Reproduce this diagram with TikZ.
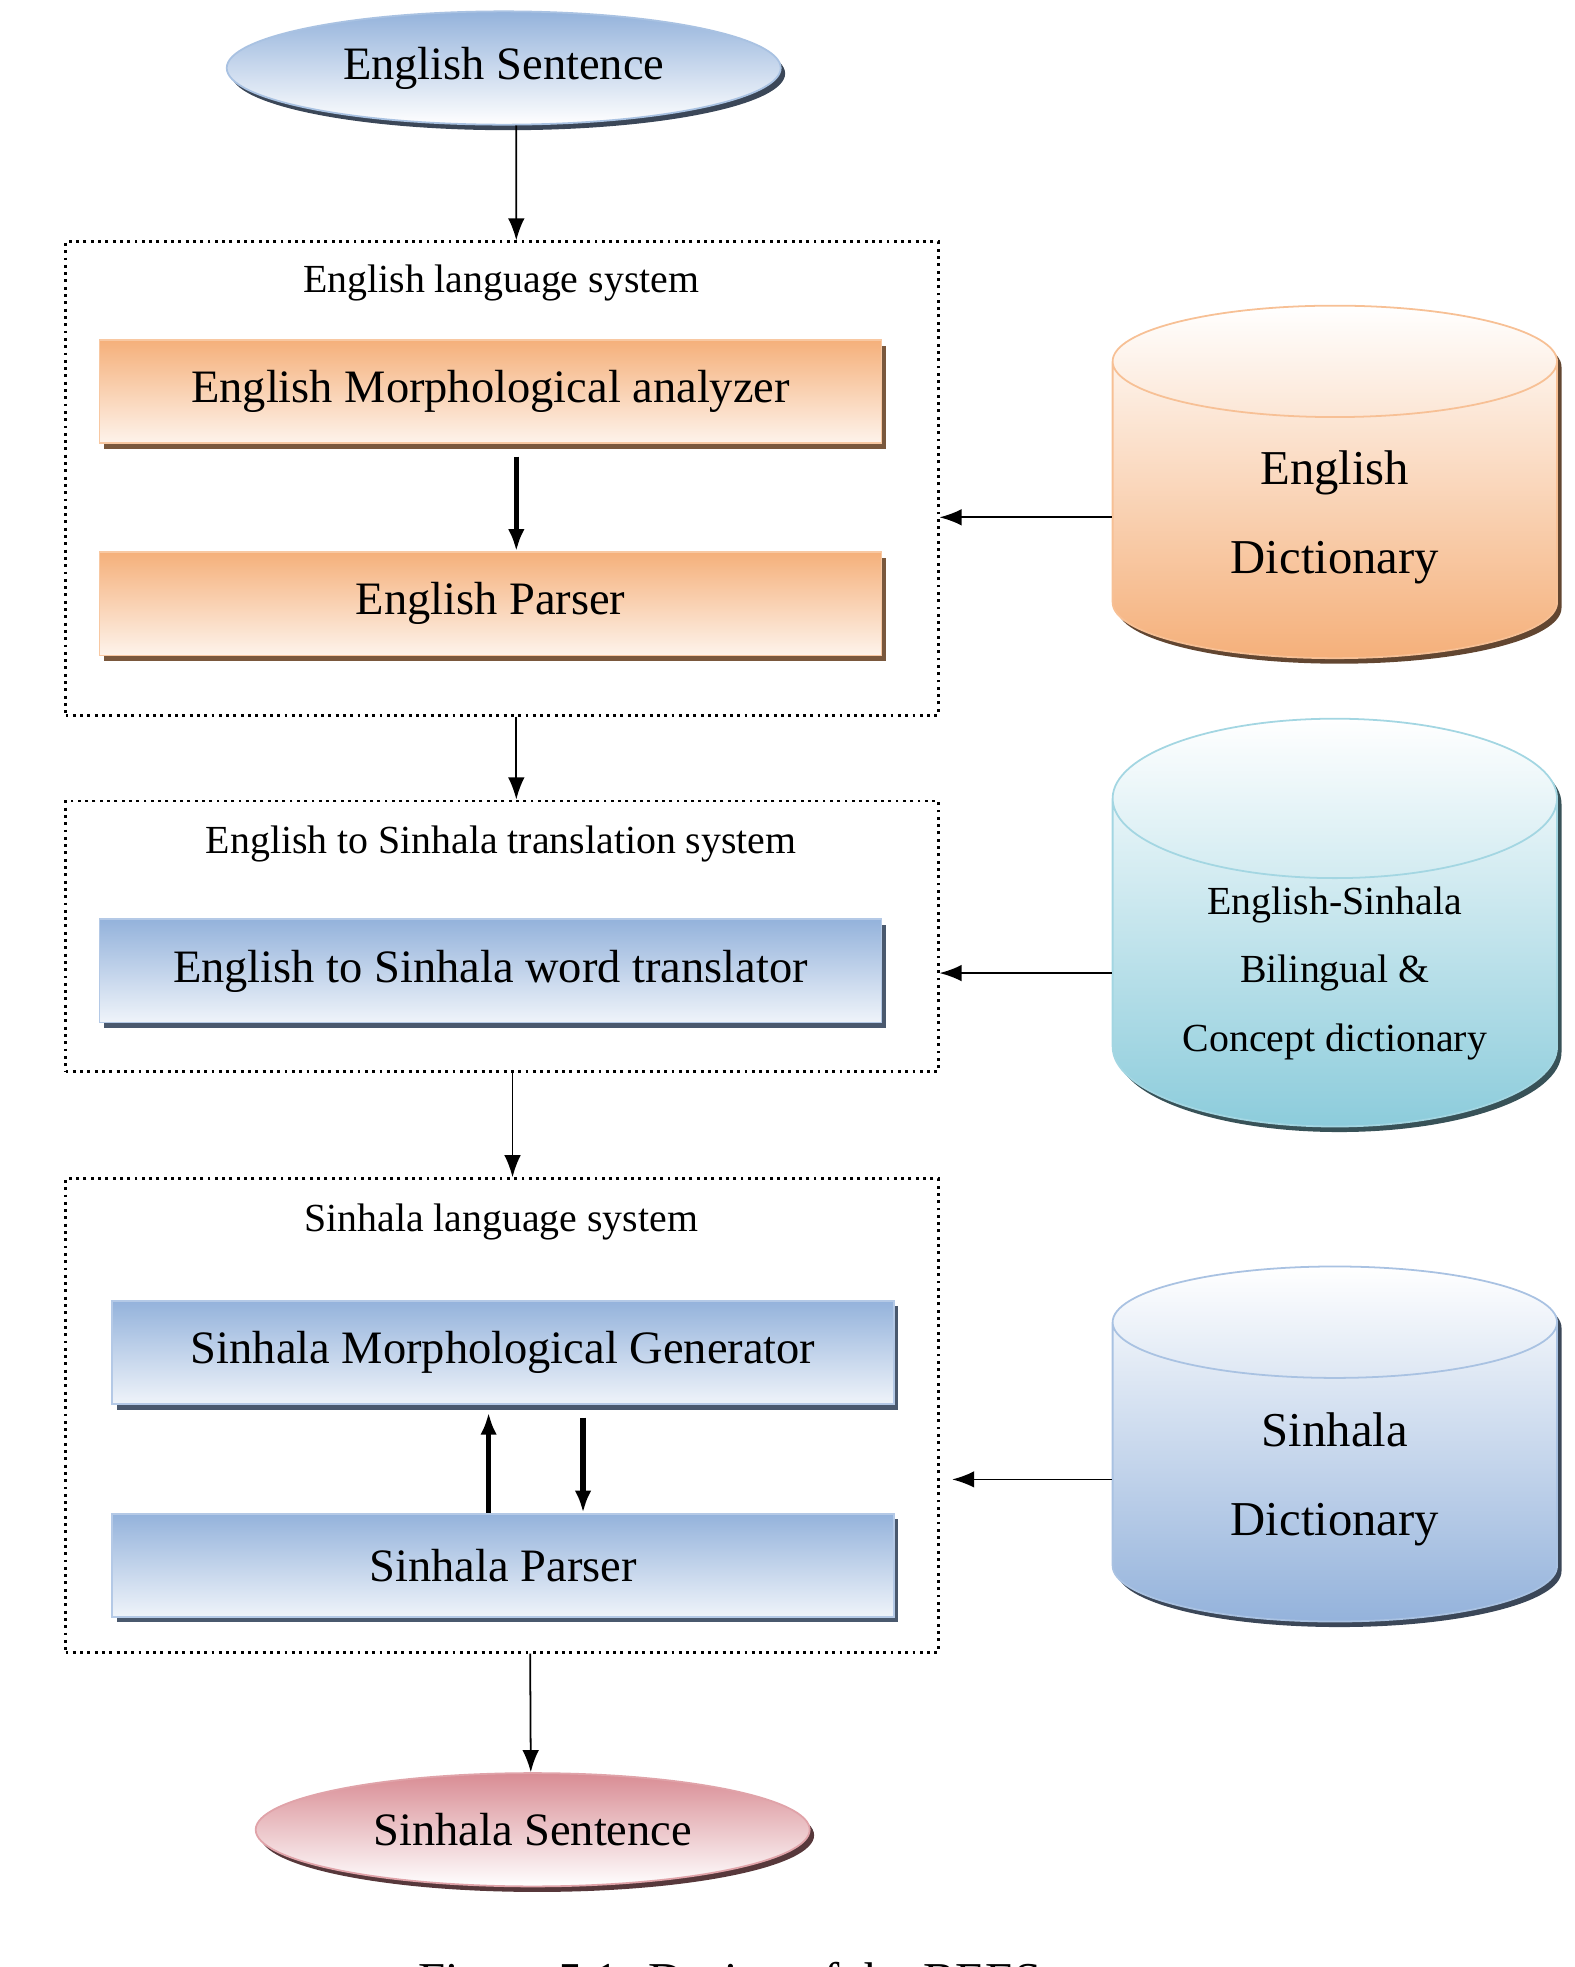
\documentclass[tikz,border=0pt]{standalone}
\usepackage{fontspec}
\setmainfont{Liberation Serif}
\usetikzlibrary{arrows.meta, calc, shapes.geometric, shadows}
\definecolor{enorange}{rgb}{0.96, 0.69, 0.48}
\definecolor{enblue}{rgb}{0.58, 0.70, 0.86}
\definecolor{encyan}{rgb}{0.55, 0.80, 0.86}
\definecolor{enred}{rgb}{0.85, 0.55, 0.58}

\begin{document}
\begin{tikzpicture}[x=0.02cm, y=-0.02cm,
	sysbox/.style={draw, dotted, line width=1.3pt, minimum width=13.86cm},
	unit/.style={draw=#1!70, thick, minimum width=12.42cm, minimum height=1.64cm, top color=#1, bottom color=#1!15, font=\fontsize{21}{25}\selectfont, general shadow={fill=#1!50!black, shadow xshift=2pt, shadow yshift=-2.5pt}},
	ends/.style={ellipse, draw=#1!80, thick, minimum width=8.8cm, minimum height=1.8cm, top color=#1, bottom color=white, font=\fontsize{21}{25}\selectfont, general shadow={fill=#1!40!black, shadow xshift=2pt, shadow yshift=-2.5pt}},
	dict/.style={cylinder, shape border rotate=90, aspect=0.5, draw=#1!80, thick, minimum width=7.06cm, align=center, anchor=north, top color=white, bottom color=#1, general shadow={fill=#1!40!black, shadow xshift=2pt, shadow yshift=-2.5pt}},
	arr/.style={-{Latex[length=10pt]}, thick},
	title/.style={font=\fontsize{18}{22}\selectfont}]
	\useasboundingbox (0,0) rectangle (1250,1562);
	
	\node[ends=enblue] (es) at (400,54) {English Sentence};
	
	\node[sysbox, minimum height=7.52cm] (sys1) at (398.5,380) {};
	\node[title] (t1) at (398,225) {English language system};
	\node[unit=enorange] (ema) at (389.5,311) {English Morphological analyzer};
	\node[unit=enorange] (ep) at (389.5,479.5) {English Parser};
	
	\node[sysbox, minimum height=4.3cm] (sys2) at (398.5,743.5) {};
	\node[title] (t2) at (398,670) {English to Sinhala translation system};
	\node[unit=enblue] (wt) at (389.5,771) {English to Sinhala word translator};
	
	\node[sysbox, minimum height=7.52cm] (sys3) at (398.5,1124) {};
	\node[title] (t3) at (398,970) {Sinhala language system};
	\node[unit=enblue] (smg) at (399.5,1074) {Sinhala Morphological Generator};
	\node[unit=enblue] (sp) at (399.5,1243) {Sinhala Parser};
	
	\node[ends=enred] (ss) at (423,1453) {Sinhala Sentence};
	
	\node[dict=enorange, minimum height=5.6cm, font=\fontsize{22}{40}\selectfont] (edict) at (1060,242) {English\\Dictionary};
	\node[dict=encyan, minimum height=6.34cm, font=\fontsize{18}{31}\selectfont] (bdict) at (1060,570) {English-Sinhala\\Bilingual \&\\Concept dictionary};
	\node[dict=enblue, minimum height=5.64cm, font=\fontsize{22}{40}\selectfont] (sdict) at (1060,1005) {Sinhala\\Dictionary};
	
	\node[font=\fontsize{22}{26}\selectfont, anchor=north] (cap) at (580,1552) {Figure 5.1: Design of the BEES};
	
	\draw[arr] ($(es.south)+(10,0)$) -- ($(sys1.north)+(11.5,0)$);
	\draw[arr, line width=2.5pt] ($(ema.south)+(20.5,10)$) -- ($(ep.north)+(20.5,0)$);
	\draw[arr] ($(sys1.south)+(11.5,0)$) -- ($(sys2.north)+(11.5,0)$);
	\draw[arr] ($(sys2.south)+(8.5,0)$) -- ($(sys3.north)+(8.5,0)$);
	\draw[arr, line width=2.5pt] ($(sp.north)+(-11.5,0)$) -- ($(smg.south)+(-11.5,6)$);
	\draw[arr, line width=2.5pt] ($(smg.south)+(63.5,10)$) -- ($(sp.north)+(63.5,0)$);
	\draw[arr] ($(sys3.south)+(22.5,0)$) -- ($(ss.north)+(-1.5,0)$);
	\draw[arr] (edict.west) -- (edict.west -| sys1.east);
	\draw[arr] (bdict.west) -- (bdict.west -| sys2.east);
	\draw[arr] (sdict.west) -- ($(sdict.west -| sys3.east)+(10,0)$);
\end{tikzpicture}
\end{document}
